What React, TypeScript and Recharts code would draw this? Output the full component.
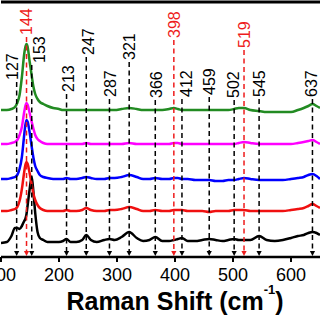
import React from 'react';
import { ComposedChart, Line, XAxis, YAxis, ReferenceLine } from 'recharts';

// Raman shift sample points (cm^-1)
const shifts = [
  100, 110, 118, 124, 128, 132, 136, 140, 142, 144,
  146, 149, 153, 156, 159, 163, 167, 173, 180, 190,
  200, 207, 213, 220, 230, 240, 247, 255, 265, 278,
  287, 296, 308, 321, 334, 345, 356, 366, 378, 390,
  398, 405, 412, 422, 435, 447, 459, 470, 482, 492,
  502, 510, 519, 530, 545, 558, 572, 586, 600, 612,
  622, 630, 637, 644, 650,
];

// Stacked spectra, intensity in arbitrary units (already offset)
const spectrumBlack = [
  14, 15, 21, 29, 29, 28, 31, 36, 38, 43,
  52, 66, 80, 64, 44, 25, 19, 17, 15, 15,
  15, 16, 18, 15, 15, 17, 22, 17, 15, 17,
  18, 17, 20, 25, 19, 16, 17, 20, 16, 16,
  17, 18, 19, 16, 16, 17, 18, 17, 16, 17,
  18, 17, 17, 17, 21, 17, 16, 17, 19, 21,
  22, 24, 25, 24, 22,
];
const spectrumRed = [
  46, 46, 47, 48, 50, 56, 68, 85, 92, 95,
  93, 85, 72, 63, 57, 52, 49, 47, 46, 46,
  46, 46, 47, 46, 46, 47, 49, 47, 46, 46,
  47, 47, 48, 50, 48, 46, 46, 47, 46, 46,
  47, 47, 47, 46, 46, 46, 45, 46, 46, 46,
  47, 47, 47, 46, 46, 46, 46, 46, 47, 48,
  49, 51, 53, 51, 49,
];
const spectrumBlue = [
  78, 78, 79, 80, 82, 88, 100, 122, 132, 137,
  135, 126, 110, 99, 91, 86, 82, 80, 79, 78,
  78, 78, 79, 78, 78, 79, 80, 79, 78, 78,
  79, 79, 80, 82, 80, 78, 78, 79, 78, 78,
  79, 79, 78, 78, 77, 77, 77, 76, 76, 77,
  77, 78, 79, 78, 77, 77, 77, 77, 78, 79,
  80, 82, 83, 81, 78,
];
const spectrumMagenta = [
  113, 113, 114, 115, 117, 122, 130, 145, 151, 154,
  152, 145, 135, 128, 122, 118, 116, 114, 113, 113,
  113, 113, 113, 113, 113, 113, 114, 113, 113, 113,
  113, 113, 113, 114, 113, 113, 113, 113, 113, 113,
  114, 114, 113, 113, 113, 113, 113, 113, 113, 113,
  113, 114, 115, 114, 113, 113, 113, 113, 113, 114,
  115, 116, 117, 115, 113,
];
const spectrumGreen = [
  147, 147, 148, 150, 154, 162, 180, 203, 210, 213,
  210, 197, 181, 170, 163, 158, 155, 153, 151, 149,
  148, 147, 147, 147, 147, 147, 147, 147, 147, 147,
  147, 147, 148, 149, 148, 147, 147, 147, 147, 148,
  149, 148, 147, 147, 147, 147, 147, 147, 147, 147,
  148, 149, 149, 147, 146, 145, 145, 145, 145, 147,
  149, 151, 153, 151, 149,
];

// Assigned band positions (cm^-1); highlighted ones are drawn in red
const peakPositions = [127, 144, 153, 213, 247, 287, 321, 366, 398, 412, 459, 502, 519, 545, 637];
const highlightedPeaks = [144, 398, 519];
const xTicks = [100, 200, 300, 400, 500, 600];

// Where each rotated band label ends (px below plot top) and its sideways nudge
const labelLayout: Record<number, { bottom: number; dx: number }> = {
  127: { bottom: 78, dx: -4 },
  144: { bottom: 33, dx: 0 },
  153: { bottom: 61, dx: 8 },
  213: { bottom: 90, dx: 1.5 },
  247: { bottom: 53, dx: 2.5 },
  287: { bottom: 95, dx: 1 },
  321: { bottom: 58, dx: 0.5 },
  366: { bottom: 96, dx: 1 },
  398: { bottom: 36, dx: 1 },
  412: { bottom: 95, dx: 4.5 },
  459: { bottom: 93, dx: 0 },
  502: { bottom: 96, dx: -1 },
  519: { bottom: 46, dx: 0 },
  545: { bottom: 95, dx: 0 },
  637: { bottom: 95, dx: -1 },
};

const FONT = '"Liberation Sans", Arial, Helvetica, sans-serif';
const RED = '#ee1c1c';

const rows = shifts.map((s, i) => ({
  shift: s,
  a: spectrumBlack[i],
  b: spectrumRed[i],
  c: spectrumBlue[i],
  d: spectrumMagenta[i],
  e: spectrumGreen[i],
}));

const makeMarker = (peak: number, color: string) => (props: any) => {
  const x = props.x1;
  const top = Math.min(props.y1, props.y2);
  const bottom = Math.max(props.y1, props.y2);
  const lay = labelLayout[peak];
  const textEnd = top + lay.bottom;
  const lineTop = textEnd + 2;
  const arrowTip = bottom - 1;
  const arrowBase = arrowTip - 5;
  return (
    <g>
      <line
        x1={x}
        x2={x}
        y1={lineTop}
        y2={arrowBase}
        stroke={color}
        strokeWidth={1.5}
        strokeDasharray="5 3.5"
      />
      <polygon
        points={`${x - 2.6},${arrowBase} ${x + 2.6},${arrowBase} ${x},${arrowTip}`}
        fill={color}
      />
      <text
        transform={`translate(${x + lay.dx},${textEnd}) rotate(-90)`}
        fill={color}
        fontSize={16}
        fontFamily={FONT}
        dominantBaseline="central"
        textAnchor="start"
      >
        {peak}
      </text>
    </g>
  );
};

const AxisTitle = () => (
  <text x={175} y={310} textAnchor="middle" fontFamily={FONT} fontWeight="bold" fontSize={25} fill="#000">
    Raman Shift (cm
    <tspan fontSize={13} dy={-16}>-1</tspan>
    <tspan dy={16}>)</tspan>
  </text>
);

export default function App() {
  return (
    <div style={{ position: 'fixed', left: 0, top: 0, width: 320, height: 320, background: '#fff' }}>
      <ComposedChart
        width={320}
        height={320}
        data={rows}
        margin={{ top: 2, right: 0, left: 1, bottom: 0 }}
      >
        <XAxis
          dataKey="shift"
          type="number"
          domain={[100, 650]}
          ticks={xTicks}
          interval={0}
          allowDataOverflow
          height={63}
          axisLine={{ stroke: '#000', strokeWidth: 2.5 }}
          tickLine={{ stroke: '#000', strokeWidth: 2 }}
          tickSize={5}
          tickMargin={6}
          tick={{ fill: '#000', fontSize: 18, fontFamily: FONT }}
          label={<AxisTitle />}
        />
        <YAxis
          type="number"
          domain={[0, 255]}
          allowDataOverflow
          width={0}
          tick={false}
          tickLine={false}
          axisLine={{ stroke: '#666', strokeWidth: 2 }}
        />
        <ReferenceLine y={255} stroke="#000" strokeWidth={3} />
        <Line type="monotone" dataKey="a" stroke="#000000" strokeWidth={2.5} dot={false} isAnimationActive={false} />
        <Line type="monotone" dataKey="b" stroke="#f01010" strokeWidth={2.5} dot={false} isAnimationActive={false} />
        <Line type="monotone" dataKey="d" stroke="#ff00ff" strokeWidth={2.5} dot={false} isAnimationActive={false} />
        <Line type="monotone" dataKey="c" stroke="#0000ff" strokeWidth={2.5} dot={false} isAnimationActive={false} />
        <Line type="monotone" dataKey="e" stroke="#228b22" strokeWidth={2.5} dot={false} isAnimationActive={false} />
        {peakPositions.map((p) => {
          const color = highlightedPeaks.includes(p) ? RED : '#000';
          return <ReferenceLine key={p} x={p} shape={makeMarker(p, color)} />;
        })}
      </ComposedChart>
    </div>
  );
}
